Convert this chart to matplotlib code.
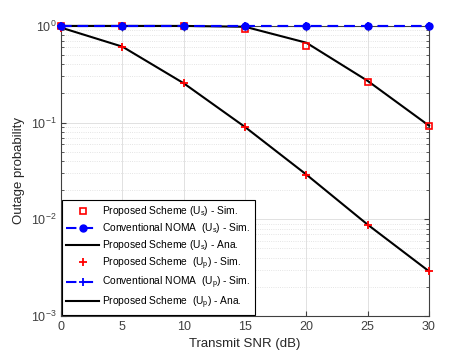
import matplotlib
matplotlib.use("Agg")
import matplotlib.pyplot as plt

plt.rcParams['font.family'] = ['Liberation Sans', 'DejaVu Sans']
plt.rcParams['mathtext.fontset'] = 'custom'
plt.rcParams['mathtext.rm'] = 'Liberation Sans'

# Dados
snr = [0, 5, 10, 15, 20, 25, 30]
us_sim = [1.0, 1.0, 1.0, 0.94, 0.62, 0.26, 0.092]
us_ana = [1.0, 1.0, 1.0, 0.98, 0.67, 0.27, 0.093]
noma_us = [1, 1, 1, 1, 1, 1, 1]
up_sim = [0.96, 0.61, 0.255, 0.09, 0.029, 0.0088, 0.0029]
up_ana = [0.96, 0.61, 0.255, 0.09, 0.029, 0.0088, 0.0029]
noma_up = [1, 1, 1, 1, 1, 1, 1]

fig = plt.figure(figsize=(4.74, 3.55), dpi=100)
ax = fig.add_axes([0.129, 0.110, 0.776, 0.817])

ax.plot(snr, us_sim, 's', color='red', mfc='none', ms=5, mew=1.2, clip_on=False, zorder=4,
        label=r'Proposed Scheme (U$_\mathregular{s}$) - Sim.')
ax.plot(snr, noma_us, '--o', color='blue', ms=5, lw=1.5, dashes=(5, 3), clip_on=False, zorder=5,
        label=r'Conventional NOMA  (U$_\mathregular{s}$) - Sim.')
ax.plot(snr, us_ana, '-', color='black', lw=1.5, clip_on=False, zorder=3,
        label=r'Proposed Scheme (U$_\mathregular{s}$) - Ana.')
ax.plot(snr, up_sim, '+', color='red', ms=6, mew=1.3, clip_on=False, zorder=4,
        label=r'Proposed Scheme  (U$_\mathregular{p}$) - Sim.')
ax.plot(snr, noma_up, '--+', color='blue', ms=6, mew=1.3, lw=1.5, dashes=(5, 3), clip_on=False, zorder=5,
        label=r'Conventional NOMA  (U$_\mathregular{p}$) - Sim.')
ax.plot(snr, up_ana, '-', color='black', lw=1.5, clip_on=False, zorder=3,
        label=r'Proposed Scheme  (U$_\mathregular{p}$) - Ana.')

ax.set_yscale('log')
ax.set_xlim(0, 30)
ax.set_ylim(1e-3, 1)
ax.set_xticks(snr)
ax.set_xlabel('Transmit SNR (dB)', fontsize=9.5, color='#262626')
ax.set_ylabel('Outage probability', fontsize=9.5, color='#262626')
ax.tick_params(which='both', direction='in', labelsize=9, colors='#404040', top=True, right=True)
ax.grid(which='major', color='#dcdcdc', lw=0.6)
ax.grid(which='minor', axis='y', color='#dcdcdc', lw=0.6, ls=':')
for s in ax.spines.values():
    s.set_color('#404040')

leg = ax.legend(loc='lower left', fontsize=7.4, fancybox=False, edgecolor='black',
                framealpha=1, borderaxespad=0.1, handlelength=3.2, labelspacing=0.3,
                handletextpad=0.3, borderpad=0.4)
leg.get_frame().set_linewidth(0.8)
leg.set_zorder(10)

fig.savefig('out.png', dpi=100)
